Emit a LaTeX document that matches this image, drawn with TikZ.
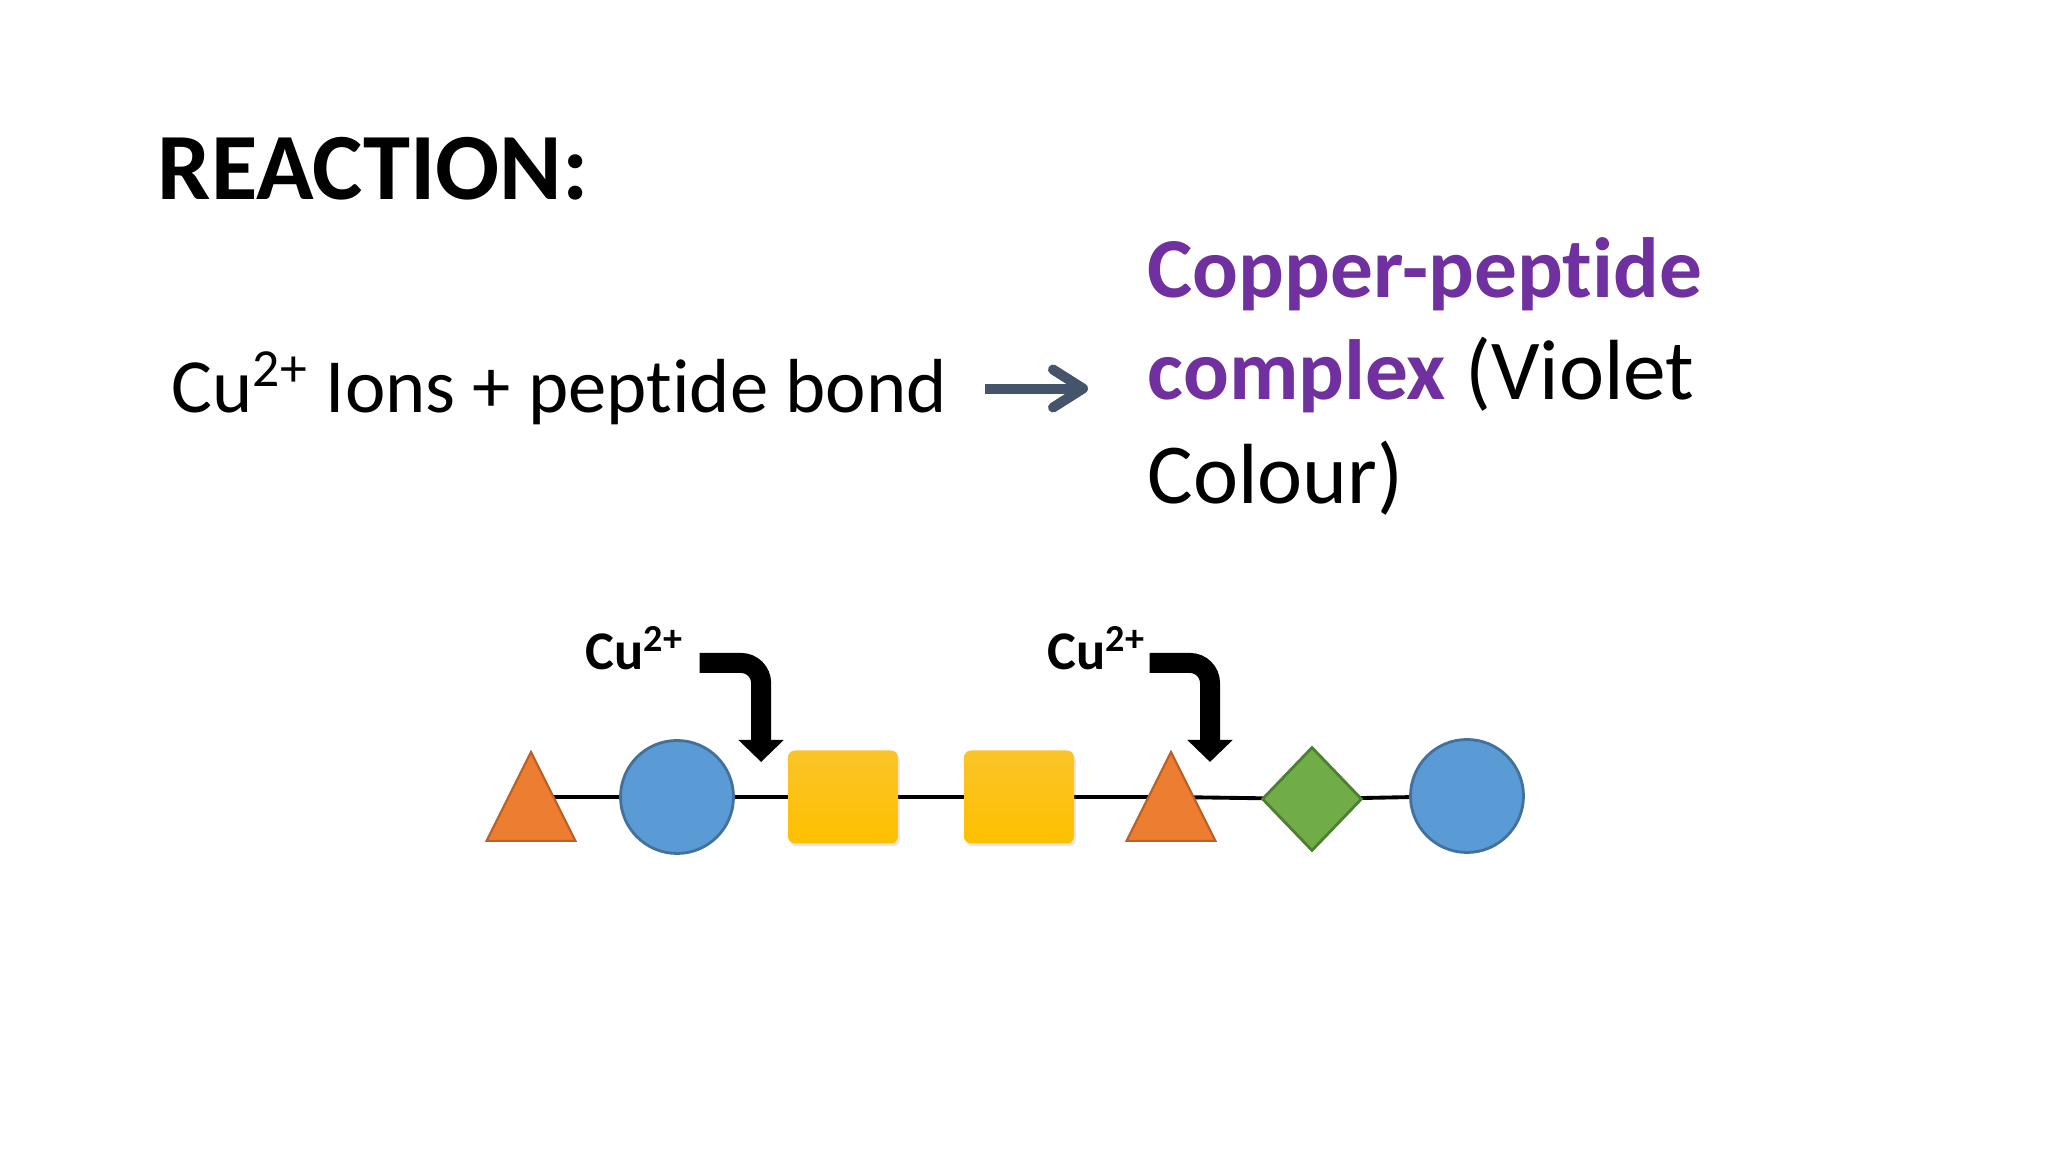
\documentclass[tikz,border=0pt]{standalone}
\usepackage{fontspec}
\setmainfont[Ligatures=CommonOff]{Carlito}
\usepackage{xcolor}
\definecolor{violet}{RGB}{112,48,160}
\definecolor{slate}{RGB}{68,84,106}
\definecolor{orange}{RGB}{237,125,49}
\definecolor{orangeedge}{RGB}{190,95,35}
\definecolor{sky}{RGB}{91,155,213}
\definecolor{skyedge}{RGB}{65,113,156}
\definecolor{gold}{RGB}{255,192,0}
\definecolor{goldtop}{RGB}{250,196,40}
\definecolor{leaf}{RGB}{112,173,71}
\definecolor{leafedge}{RGB}{80,126,50}
\usepackage{tikz}
\usetikzlibrary{
    shapes.geometric,
    arrows.meta,
    positioning,
    calc,
    backgrounds,
    shadows
}

\begin{document}
\begin{tikzpicture}[
    tri/.style={isosceles triangle, isosceles triangle apex angle=54, isosceles triangle stretches,
        shape border rotate=90, minimum width=0.89cm, minimum height=0.89cm, inner sep=0,
        fill=orange, draw=orangeedge, line width=0.6pt, anchor=south},
    cell/.style={circle, minimum size=1.13cm, inner sep=0, fill=sky, draw=skyedge, line width=0.8pt},
    block/.style={rectangle, rounded corners=2pt, minimum width=1.10cm, minimum height=0.93cm,
        inner sep=0, top color=goldtop, bottom color=gold,
        drop shadow={opacity=0.18, shadow xshift=0.02cm, shadow yshift=-0.03cm}},
    gem/.style={diamond, minimum width=1.0cm, minimum height=1.04cm, inner sep=0,
        fill=leaf, draw=leafedge, line width=0.8pt},
    bond/.style={draw=black, line width=1.1pt},
    ion/.style={font=\fontsize{15.5}{18}\selectfont\bfseries, anchor=base west, inner sep=0},
    hook/.style={line width=0.2cm, rounded corners=0.2cm, -{Triangle[length=0.22cm, width=0.44cm]}},
    react/.style={draw=slate, line width=0.1cm, -{Straight Barb[round, length=0.3cm, width=0.38cm]}}
]
    \useasboundingbox (0,0) rectangle (20.48,11.52);

    % Title
    \node[font=\fontsize{27}{32}\selectfont\bfseries, anchor=base west, inner sep=0] (title) at (1.57, 9.52) {REACTION:};

    % Reaction equation
    \node[font=\fontsize{21.8}{26}\selectfont, anchor=base west, inner sep=0] (reactants) at (1.71, 7.39) {Cu\textsuperscript{2+} Ions + peptide bond};
    \node[font=\fontsize{24.3}{29}\selectfont\bfseries, text=violet, anchor=base west, inner sep=0] (prod1) at (11.47, 8.54) {Copper-peptide};
    \node[font=\fontsize{24.3}{29}\selectfont, anchor=base west, inner sep=0] (prod2) at (11.47, 7.52) {\textbf{\color{violet}complex} (Violet};
    \node[font=\fontsize{24.3}{29}\selectfont, anchor=base west, inner sep=0] (prod3) at (11.47, 6.48) {Colour)};
    \draw[react, shorten <=0.37cm, shorten >=0.59cm] (reactants.east) -- (reactants.east -| prod2.west);

    % Peptide chain
    \node[tri] (t1) at (5.31, 3.10) {};
    \node[cell] (c1) at (6.77, 3.55) {};
    \node[block] (s1) at (8.43, 3.55) {};
    \node[block] (s2) at (10.19, 3.55) {};
    \node[tri] (t2) at (11.71, 3.10) {};
    \node[gem] (d1) at (13.12, 3.53) {};
    \node[cell] (c2) at (14.67, 3.56) {};
    \begin{scope}[on background layer]
        \draw[bond] (t1 |- c1) -- (c1.center) -- (s1.center) -- (s2.center) -- (t2 |- c1) -- (d1.center) -- (c2.center);
    \end{scope}

    % Cu2+ attack sites
    \node[ion] (ion1) at (5.85, 4.82) {Cu\textsuperscript{2+}};
    \node[ion] (ion2) at (10.47, 4.82) {Cu\textsuperscript{2+}};
    \coordinate (site1) at ($(c1.east)!0.5!(s1.west)+(0,0.35)$);
    \coordinate (site2) at ($(t2 |- c1)+(0.39,0.35)$);
    \draw[hook] ($(ion1.base east)+(0.15,0.07)$) -| (site1);
    \draw[hook] ($(ion2.base east)+(0.03,0.07)$) -| (site2);
\end{tikzpicture}
\end{document}
